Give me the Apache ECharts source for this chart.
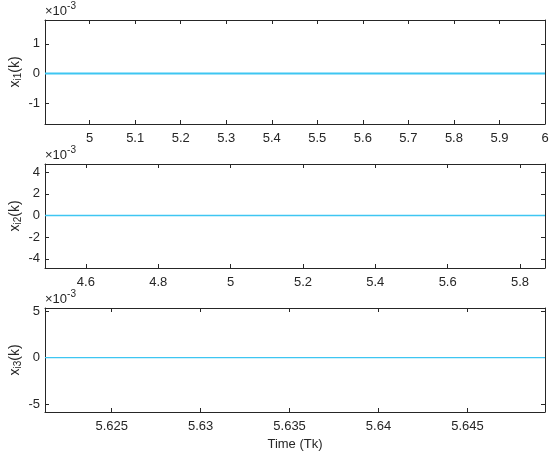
<!DOCTYPE html>
<html>
<head>
<meta charset="utf-8">
<script src="https://cdn.jsdelivr.net/npm/echarts@6/dist/echarts.min.js"></script>
<style>
  body { margin: 0; background: #fff; }
</style>
</head>
<body>
<div id="main" style="width: 550px; height: 452px"></div>
<script>
// time span and state values (in units of 1e-3)
var t1 = [4.902, 6.0];
var x1 = [0, 0];
var t2 = [4.487, 5.869];
var x2 = [0, 0];
var t3 = [5.62125, 5.64936];
var x3 = [0, 0];

var xTicks1 = [5, 5.1, 5.2, 5.3, 5.4, 5.5, 5.6, 5.7, 5.8, 5.9, 6];
var xTicks2 = [4.6, 4.8, 5, 5.2, 5.4, 5.6, 5.8];
var xTicks3 = [5.625, 5.63, 5.635, 5.64, 5.645];
var yTicks1 = [-1, 0, 1];
var yTicks2 = [-4, -2, 0, 2, 4];
var yTicks3 = [-5, 0, 5];

var yNames = ["{x|x}{s|i1}{x|(k)}", "{x|x}{s|i2}{x|(k)}", "{x|x}{s|i3}{x|(k)}"];
var yRange = [[-1.7, 1.8], [-4.85, 4.75], [-5.85, 5.35]];

var axisColor = "#262626";
var lineColor = "#3EC6F2";
var font = "Liberation Sans, Arial, sans-serif";

var chart = echarts.init(document.getElementById("main"));

var grids = [
  { left: 45, right: 5, top: 20, height: 104, outerBoundsMode: "none", containLabel: false },
  { left: 45, right: 5, top: 164, height: 104, outerBoundsMode: "none", containLabel: false },
  { left: 45, right: 5, top: 308, height: 104, outerBoundsMode: "none", containLabel: false },
];

var spans = [t1, t2, t3];
var xTicks = [xTicks1, xTicks2, xTicks3];
var yTicks = [yTicks1, yTicks2, yTicks3];
var values = [x1, x2, x3];
var widths = [2, 1.6, 1.2];

var xAxes = [];
var yAxes = [];
var series = [];
var graphics = [];

function fmt(v) {
  return String(v);
}

for (var i = 0; i < 3; i++) {
  var base = {
    type: "value",
    gridIndex: i,
    min: spans[i][0],
    max: spans[i][1],
    splitLine: { show: false },
    axisLine: { show: true, onZero: false, lineStyle: { color: axisColor, width: 1 } },
  };
  xAxes.push(
    Object.assign({}, base, {
      position: "bottom",
      axisTick: { show: true, inside: true, length: 4, customValues: xTicks[i], lineStyle: { color: axisColor } },
      axisLabel: {
        customValues: xTicks[i],
        color: axisColor,
        fontFamily: font,
        fontSize: 13,
        margin: 8,
        formatter: fmt,
      },
      name: i === 2 ? "Time (Tk)" : "",
      nameLocation: "middle",
      nameGap: 26,
      nameTextStyle: { color: axisColor, fontFamily: font, fontSize: 13 },
    })
  );
  xAxes.push(
    Object.assign({}, base, {
      position: "top",
      axisTick: { show: true, inside: true, length: 4, customValues: xTicks[i], lineStyle: { color: axisColor } },
      axisLabel: { show: false },
    })
  );
  var ybase = {
    type: "value",
    gridIndex: i,
    min: yRange[i][0],
    max: yRange[i][1],
    splitLine: { show: false },
    axisLine: { show: true, onZero: false, lineStyle: { color: axisColor, width: 1 } },
  };
  yAxes.push(
    Object.assign({}, ybase, {
      position: "left",
      axisTick: { show: true, inside: true, length: 4, customValues: yTicks[i], lineStyle: { color: axisColor } },
      axisLabel: { customValues: yTicks[i], color: axisColor, fontFamily: font, fontSize: 13, margin: 5 },
      name: yNames[i],
      nameLocation: "middle",
      nameGap: 22,
      nameMoveOverlap: false,
      nameTextStyle: {
        color: axisColor,
        fontFamily: font,
        rich: {
          x: { fontSize: 14, fontFamily: font, color: axisColor, lineHeight: 15 },
          s: { fontSize: 10, fontFamily: font, color: axisColor, verticalAlign: "bottom", lineHeight: 6, padding: [6, 0, 0, 0] },
        },
      },
    })
  );
  yAxes.push(
    Object.assign({}, ybase, {
      position: "right",
      axisTick: { show: true, inside: true, length: 4, customValues: yTicks[i], lineStyle: { color: axisColor } },
      axisLabel: { show: false },
    })
  );
  series.push({
    type: "line",
    xAxisIndex: i * 2,
    yAxisIndex: i * 2,
    symbol: "none",
    lineStyle: { color: lineColor, width: widths[i] },
    data: spans[i].map(function (t, k) {
      return [t, values[i][k]];
    }),
  });
  graphics.push({
    type: "text",
    left: 45,
    top: grids[i].top - 19,
    style: {
      text: "{a|×10}{b|-3}",
      rich: {
        a: { fontSize: 13, fontFamily: font, fill: axisColor, verticalAlign: "bottom", padding: [4, 0, 0, 0] },
        b: { fontSize: 10, fontFamily: font, fill: axisColor, verticalAlign: "top" },
      },
    },
  });
}

var option = {
  animation: false,
  grid: grids,
  xAxis: xAxes,
  yAxis: yAxes,
  series: series,
  graphic: graphics,
};
chart.setOption(option);
</script>
</body>
</html>
